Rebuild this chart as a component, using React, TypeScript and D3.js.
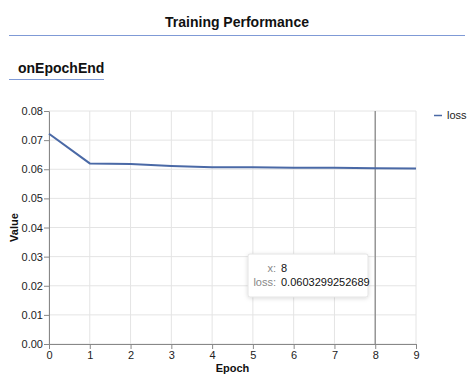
import { useEffect, useRef } from 'react';
import * as d3 from 'd3';

// Training loss per epoch
const epochs = [0, 1, 2, 3, 4, 5, 6, 7, 8, 9];
const loss = [0.0722, 0.0620, 0.0618, 0.0611, 0.0607, 0.0607, 0.0605, 0.0605, 0.0603299252689, 0.0603];
const yTicks = [0, 0.01, 0.02, 0.03, 0.04, 0.05, 0.06, 0.07, 0.08];
const hoverEpoch = 8;

const W = 474;
const H = 388;
const FONT = '"Liberation Sans", Arial, Helvetica, sans-serif';
const LINE_COLOR = '#4a69a6';

export default function App() {
  const svgRef = useRef<SVGSVGElement | null>(null);

  useEffect(() => {
    if (!svgRef.current) return;
    const svg = d3.select(svgRef.current);
    svg.selectAll('*').remove();

    const margin = { top: 111, left: 49, right: 58, bottom: 44 };
    const innerW = W - margin.left - margin.right;
    const innerH = H - margin.top - margin.bottom;

    // Header
    svg.append('text')
      .attr('x', W / 2).attr('y', 27)
      .attr('text-anchor', 'middle')
      .attr('font-family', FONT).attr('font-weight', 'bold').attr('font-size', 14)
      .attr('fill', '#111')
      .text('Training Performance');
    svg.append('rect')
      .attr('x', 9).attr('y', 35).attr('width', 456).attr('height', 1)
      .attr('fill', '#7f9ad6');

    svg.append('text')
      .attr('x', 18).attr('y', 73)
      .attr('font-family', FONT).attr('font-weight', 'bold').attr('font-size', 14)
      .attr('fill', '#111')
      .text('onEpochEnd');
    svg.append('rect')
      .attr('x', 9).attr('y', 79).attr('width', 95).attr('height', 1)
      .attr('fill', '#7f9ad6');

    const x = d3.scaleLinear().domain([0, 9]).range([0, innerW]);
    const y = d3.scaleLinear().domain([0, 0.08]).range([innerH, 0]);

    const g = svg.append('g').attr('transform', `translate(${margin.left},${margin.top})`);

    // Grid
    g.selectAll('.gx').data(epochs).enter().append('line')
      .attr('x1', d => x(d)).attr('x2', d => x(d))
      .attr('y1', 0).attr('y2', innerH)
      .attr('stroke', '#e4e4e4').attr('stroke-width', 1);
    g.selectAll('.gy').data(yTicks).enter().append('line')
      .attr('x1', 0).attr('x2', innerW)
      .attr('y1', d => y(d)).attr('y2', d => y(d))
      .attr('stroke', '#e4e4e4').attr('stroke-width', 1);

    // Axes
    const yAxis = g.append('g').call(
      d3.axisLeft(y).tickValues(yTicks).tickFormat(d3.format('.2f')).tickSize(5).tickSizeOuter(0)
    );
    const xAxis = g.append('g').attr('transform', `translate(0,${innerH})`).call(
      d3.axisBottom(x).tickValues(epochs).tickFormat(d3.format('d')).tickSize(5).tickSizeOuter(0)
    );
    [yAxis, xAxis].forEach(a => {
      a.select('.domain').attr('stroke', '#888');
      a.selectAll('.tick line').attr('stroke', '#888');
      a.selectAll('.tick text')
        .attr('font-family', FONT).attr('font-size', 11).attr('fill', '#222');
    });
    yAxis.selectAll('.tick text').attr('x', -6);
    xAxis.selectAll('.tick text').attr('y', 7);

    // Hover rule
    g.append('line')
      .attr('x1', x(hoverEpoch)).attr('x2', x(hoverEpoch))
      .attr('y1', 0).attr('y2', innerH)
      .attr('stroke', '#8a8a8a').attr('stroke-width', 1.3);

    // Loss line
    const line = d3.line<number>()
      .x((_, i) => x(epochs[i]))
      .y(d => y(d));
    g.append('path')
      .attr('d', line(loss) || '')
      .attr('fill', 'none')
      .attr('stroke', LINE_COLOR)
      .attr('stroke-width', 2);

    // Axis titles
    svg.append('text')
      .attr('transform', `translate(18,${margin.top + innerH / 2}) rotate(-90)`)
      .attr('text-anchor', 'middle')
      .attr('font-family', FONT).attr('font-weight', 'bold').attr('font-size', 11)
      .attr('fill', '#111')
      .text('Value');
    svg.append('text')
      .attr('x', margin.left + innerW / 2).attr('y', 372)
      .attr('text-anchor', 'middle')
      .attr('font-family', FONT).attr('font-weight', 'bold').attr('font-size', 11)
      .attr('fill', '#111')
      .text('Epoch');

    // Legend
    svg.append('line')
      .attr('x1', 434).attr('x2', 442).attr('y1', 115.5).attr('y2', 115.5)
      .attr('stroke', LINE_COLOR).attr('stroke-width', 1.5);
    svg.append('text')
      .attr('x', 447).attr('y', 119)
      .attr('font-family', FONT).attr('font-size', 11).attr('fill', '#222')
      .text('loss');

    // Tooltip
    const defs = svg.append('defs');
    const f = defs.append('filter').attr('id', 'shadow').attr('x', '-20%').attr('y', '-20%')
      .attr('width', '140%').attr('height', '150%');
    f.append('feDropShadow').attr('dx', 0).attr('dy', 1).attr('stdDeviation', 2)
      .attr('flood-color', '#000').attr('flood-opacity', 0.15);
    const tip = svg.append('g').attr('transform', 'translate(248,254)');
    tip.append('rect')
      .attr('width', 120).attr('height', 43).attr('rx', 2)
      .attr('fill', '#fff').attr('stroke', '#ddd').attr('stroke-width', 0.8)
      .attr('filter', 'url(#shadow)');
    const rows: [string, string][] = [['x:', String(hoverEpoch)], ['loss:', String(loss[hoverEpoch])]];
    rows.forEach(([k, v], i) => {
      tip.append('text')
        .attr('x', 28).attr('y', 18 + i * 14)
        .attr('text-anchor', 'end')
        .attr('font-family', FONT).attr('font-size', 11).attr('fill', '#888')
        .text(k);
      tip.append('text')
        .attr('x', 33).attr('y', 18 + i * 14)
        .attr('font-family', FONT).attr('font-size', 11).attr('fill', '#111')
        .text(v);
    });
  }, []);

  return (
    <div style={{ width: W, height: H, background: '#fff' }}>
      <style>{`body { margin: 0; }`}</style>
      <svg ref={svgRef} width={W} height={H} style={{ display: 'block' }} />
    </div>
  );
}
